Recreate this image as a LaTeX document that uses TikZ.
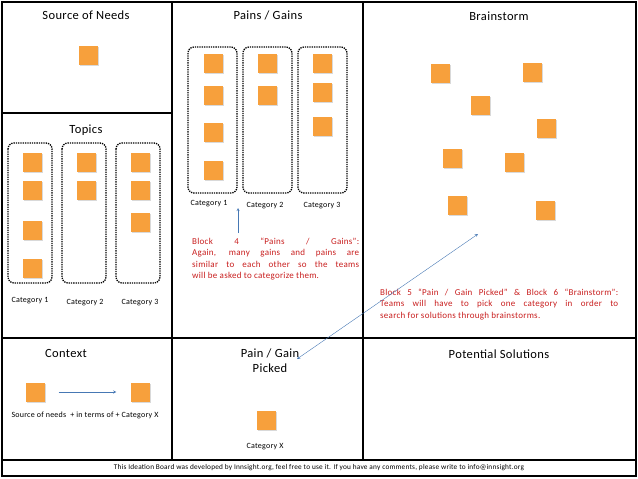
\documentclass[tikz,border=0pt]{standalone}
\usepackage{fontspec}
\setmainfont{Carlito}[LetterSpace=3]
\usetikzlibrary{shadows}
\hyphenpenalty=10000
\definecolor{sticky}{RGB}{247,160,60}
\definecolor{redtxt}{RGB}{200,30,30}
\definecolor{arr}{RGB}{70,120,180}
\tikzset{
 sticky/.style={fill=sticky,minimum width=19pt,minimum height=19pt,inner sep=0pt,drop shadow={shadow xshift=1pt,shadow yshift=-1.5pt,opacity=0.3}},
 catbox/.style={draw,densely dotted,line width=1.3pt,rounded corners=6pt},
 title/.style={font=\fontsize{12.5}{15}\selectfont},
 lbl/.style={font=\fontsize{8}{9}\selectfont},
 note/.style={text=redtxt,font=\fontsize{9}{11.2}\selectfont,align=justify,inner sep=0pt,anchor=north west},
 frame/.style={line width=1.2pt},
 conn/.style={draw=arr,-stealth}
}
\begin{document}
\begin{tikzpicture}[x=1pt,y=-1pt]
\useasboundingbox (0,0) rectangle (638,479);
% frame
\draw[frame] (2,2) rectangle (636,476);
\draw[frame] (172,2) -- (172,460);
\draw[frame] (363,2) -- (363,460);
\draw[frame] (2,113) -- (172,113);
\draw[frame] (2,338) -- (636,338);
\draw[frame] (2,460) -- (636,460);
% titles
\node[title] (t1) at (86,15) {Source of Needs};
\node[title] (t2) at (86,130) {Topics};
\node[title] (t3) at (268,15) {Pains / Gains};
\node[title] (t4) at (499,16) {Brainstorm};
\node[title] (t5) at (66,353) {Context};
\node[title,align=center] (t6) at (270,361) {Pain / Gain\\Picked};
\node[title] (t7) at (499,354) {Potential Solutions};
% source
\node[sticky] (s0) at (88,55) {};
% topics
\draw[catbox] (8,143) rectangle (52,283);
\draw[catbox] (62,143) rectangle (106,283);
\draw[catbox] (116,143) rectangle (160,283);
\foreach \y [count=\i] in {162,190,230,268} \node[sticky] (ta\i) at (32,\y) {};
\foreach \y [count=\i] in {162,190} \node[sticky] (tb\i) at (86,\y) {};
\foreach \y [count=\i] in {162,190,222} \node[sticky] (tc\i) at (140,\y) {};
\node[lbl] (tl1) at (30,301) {Category 1};
\node[lbl] (tl2) at (85,303) {Category 2};
\node[lbl] (tl3) at (140,303) {Category 3};
% pains
\draw[catbox] (188,47) rectangle (237,193);
\draw[catbox] (243,47) rectangle (292,193);
\draw[catbox] (298,47) rectangle (347,193);
\foreach \y [count=\i] in {63,95,132,170} \node[sticky] (pa\i) at (213,\y) {};
\foreach \y [count=\i] in {63,95} \node[sticky] (pb\i) at (267,\y) {};
\foreach \y [count=\i] in {63,92,126} \node[sticky] (pc\i) at (322,\y) {};
\node[lbl] (pl1) at (209,204) {Category 1};
\node[lbl] (pl2) at (265,206) {Category 2};
\node[lbl] (pl3) at (322,206) {Category 3};
\node[note,text width=167pt] (n1) at (192,238) {Block\hfill 4\hfill ``Pains\hfill /\hfill Gains'':\\ Again, many gains and pains are\linebreak similar to each other so the teams\linebreak will be asked to categorize them.};
\coordinate (a1) at (238,208);
\draw[conn] (238,233) -- (a1);
% brainstorm
\foreach \p [count=\i] in {(440,73),(532,72),(480,105),(546,128),(452,158),(514,162),(457,205),(545,210)}
  \node[sticky] (b\i) at \p {};
\node[note,text width=238pt] (n2) at (380,289) {Block 5 ``Pain / Gain Picked'' \& Block 6 ``Brainstorm'':\linebreak Teams will have to pick one category in order to\linebreak search for solutions through brainstorms.};
\coordinate (e1) at (478,234);
\coordinate (e2) at (297,359);
\draw[draw=arr,stealth-stealth] (e2) -- (e1);
% context
\node[sticky] (c1) at (35,392) {};
\node[sticky] (c2) at (140,392) {};
\draw[conn] ([xshift=14pt]c1.east) -- ([xshift=-14pt]c2.west);
\node[lbl] (cl) at (85,415) {Source of needs\ \ + in terms of + Category X};
% picked
\node[sticky] (k1) at (266,420) {};
\node[lbl] (kl) at (265,447) {Category X};
% footer
\node[font=\fontsize{7.3}{8}\selectfont] (f) at (319,467.5) {This Ideation Board was developed by Innsight.org, feel free to use it. If you have any comments, please write to info@innsight.org};
\end{tikzpicture}
\end{document}
